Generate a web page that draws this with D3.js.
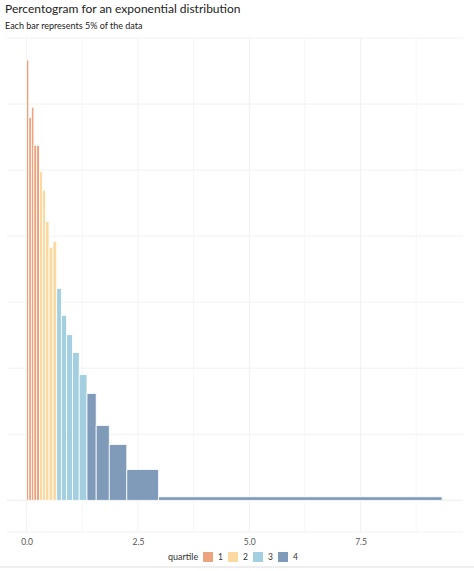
<!DOCTYPE html><html><head><meta charset="utf-8">
<script src="https://cdn.jsdelivr.net/npm/d3@7"></script>
<style>body{margin:0;background:#fff;font-family:Lato,"Open Sans",sans-serif}</style></head><body>
<script>
const binEdges=[0,0.05,0.1075,0.1635,0.2255,0.2875,0.3545,0.4255,0.5045,0.5915,0.6765,0.7805,0.8995,1.0325,1.1815,1.3565,1.5625,1.8565,2.2505,2.9645,9.33];
const binQuartile=[1,1,1,1,1,2,2,2,2,2,3,3,3,3,3,4,4,4,4,4];
const quartiles=["1","2","3","4"];
const quartileColors=["#eea37f","#fcd9a0","#a3cfe0","#7f9bb9"];
const xTicks=[0,2.5,5,7.5];
const share=0.05;
const W=474,H=571;
const svg=d3.select("body").append("svg").attr("width",W).attr("height",H);
const x=d3.scaleLinear().domain([-0.44,9.8]).range([7,463]);
const y=d3.scaleLinear().domain([-0.072,1.05]).range([532,38]);
const bins=binEdges.slice(0,-1).map((e,i)=>({x0:e,x1:binEdges[i+1],q:binQuartile[i],d:share/(binEdges[i+1]-e)}));
const g=svg.append("g");
// grid
const gx=d3.range(0,9.8,1.25), gy=d3.range(0,1.05,0.15);
g.selectAll(".gx").data(gx).join("line").attr("x1",d=>x(d)).attr("x2",d=>x(d)).attr("y1",38).attr("y2",532).attr("stroke","#f1f1f1").attr("stroke-width",d=>d%2.5===0?1:0.6);
g.selectAll(".gy").data(gy.concat([-0.0]).map((d,i)=>d)).join("line").attr("x1",7).attr("x2",463).attr("y1",d=>y(d)).attr("y2",d=>y(d)).attr("stroke","#f1f1f1");
g.append("line").attr("x1",7).attr("x2",463).attr("y1",532).attr("y2",532).attr("stroke","#f1f1f1");
g.selectAll("rect.bar").data(bins).join("rect").attr("class","bar")
 .attr("x",d=>x(d.x0)).attr("width",d=>x(d.x1)-x(d.x0)).attr("y",d=>y(d.d)).attr("height",d=>y(0)-y(d.d))
 .attr("fill",d=>quartileColors[d.q-1]).attr("stroke","#fff").attr("stroke-width",0.8);
const ax=svg.append("g").attr("transform","translate(0,532)").call(d3.axisBottom(x).tickValues(xTicks).tickFormat(d3.format(".1f")).tickSize(0).tickPadding(7));
ax.select(".domain").remove();
ax.selectAll("text").attr("fill","#555").style("font-size","8.5px").style("font-family","Lato,sans-serif");
svg.append("text").attr("x",5).attr("y",13).text("Percentogram for an exponential distribution").style("font-size","12px").attr("fill","#222");
svg.append("text").attr("x",5).attr("y",29).text("Each bar represents 5% of the data").style("font-size","9px").attr("fill","#222");
const lg=svg.append("g").attr("transform","translate(168,557)");
lg.append("text").attr("x",0).attr("y",3).text("quartile").style("font-size","9px").attr("fill","#333");
quartiles.forEach((q,i)=>{const ox=35+i*25;
 lg.append("rect").attr("x",ox).attr("y",-5).attr("width",10).attr("height",10).attr("fill",quartileColors[i]);
 lg.append("text").attr("x",ox+15).attr("y",3).text(q).style("font-size","8.5px").attr("fill","#333");});
svg.append("line").attr("x1",0).attr("x2",474).attr("y1",567).attr("y2",567).attr("stroke","#ddd");
</script></body></html>
